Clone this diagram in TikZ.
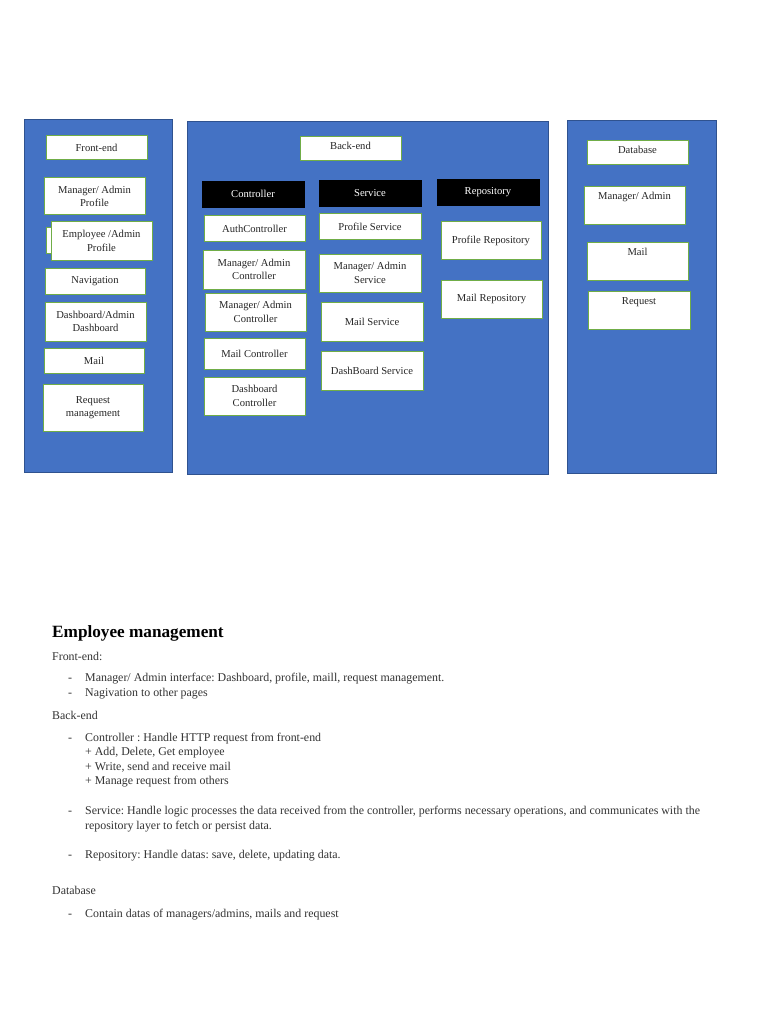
\documentclass[tikz,border=0pt]{standalone}
\usepackage{fontspec}
\setmainfont{Liberation Serif}
\frenchspacing
\begin{document}
\begin{tikzpicture}[x=1pt,y=-1pt,
  panel/.style={draw=panelborder,fill=panelblue,line width=0.8pt,inner sep=0pt},
  wbox/.style={draw=boxgreen,fill=white,line width=1pt,inner sep=0pt,align=center,
    text=boxtext,font=\fontsize{10.6}{13.5}\selectfont},
  topbox/.style={wbox,text height=13pt},
  hbox/.style={draw=black,fill=black,inner sep=0pt,align=center,text=white,
    font=\fontsize{10.6}{13.5}\selectfont},
  body/.style={inner sep=0pt,anchor=base west,text=bodytext,font=\fontsize{11.9}{14.5}\selectfont},
  dashmark/.style={inner sep=0pt,anchor=base,text=bodytext,font=\fontsize{12}{14.5}\selectfont}
]
\definecolor{panelblue}{HTML}{4472C4}
\definecolor{panelborder}{HTML}{2F528F}
\definecolor{boxgreen}{HTML}{70AD47}
\definecolor{boxtext}{HTML}{262626}
\definecolor{bodytext}{HTML}{333333}
\useasboundingbox[fill=white] (0,0) rectangle (768,1024);

% panels
\node[panel,minimum width=148pt,minimum height=353pt] (pf) at (98,295.5) {};
\node[panel,minimum width=361pt,minimum height=353pt] (pb) at (367.5,297.5) {};
\node[panel,minimum width=149pt,minimum height=353pt] (pd) at (641.5,296.5) {};

% front-end
\node[wbox,minimum width=101pt,minimum height=24pt] (fe) at (96.5,148) {Front-end};
\node[wbox,minimum width=101pt,minimum height=37pt] (mp) at (94.5,196.5) {Manager/ Admin\\Profile};
\node[wbox,minimum width=101pt,minimum height=25pt] (epb) at (96.5,240.5) {};
\node[wbox,minimum width=101pt,minimum height=38pt] (ep) at (101.5,241) {Employee /Admin\\Profile};
\node[wbox,minimum width=100pt,minimum height=26pt] (nav) at (95,281) {Navigation};
\node[wbox,minimum width=101pt,minimum height=39pt] (dash) at (95.5,321.5) {Dashboard/Admin\\Dashboard};
\node[wbox,minimum width=100pt,minimum height=25pt] (mail) at (94,360.5) {Mail};
\node[wbox,minimum width=100pt,minimum height=47pt] (req) at (93,407.5) {Request\\management};

% back-end
\node[topbox,minimum width=101pt,text depth=11pt] (be) at (350.5,148.5) {Back-end};
\node[hbox,minimum width=102pt,minimum height=26pt] (ctl) at (253,194) {Controller};
\node[hbox,minimum width=102pt,minimum height=26pt] (svc) at (370,193) {Service};
\node[hbox,minimum width=102pt,minimum height=26pt] (rep) at (488,192) {Repository};

\node[wbox,minimum width=101pt,minimum height=25pt] (auth) at (254.5,228.5) {AuthController};
\node[wbox,minimum width=102pt,minimum height=39pt] (mac) at (254,269.5) {Manager/ Admin\\Controller};
\node[wbox,minimum width=101pt,minimum height=38pt] (mac2) at (255.5,312) {Manager/ Admin\\Controller};
\node[wbox,minimum width=101pt,minimum height=31pt] (mailc) at (254.5,353.5) {Mail Controller};
\node[wbox,minimum width=101pt,minimum height=38pt] (dashc) at (254.5,396) {Dashboard\\Controller};

\node[wbox,minimum width=102pt,minimum height=25pt] (ps) at (370,226.5) {Profile Service};
\node[wbox,minimum width=102pt,minimum height=38pt] (mas) at (370,273) {Manager/ Admin\\Service};
\node[wbox,minimum width=102pt,minimum height=39pt] (ms) at (372,321.5) {Mail Service};
\node[wbox,minimum width=102pt,minimum height=39pt] (ds) at (372,370.5) {DashBoard Service};

\node[wbox,minimum width=100pt,minimum height=37pt] (pr) at (491,240.5) {Profile Repository};
\node[wbox,minimum width=101pt,minimum height=38pt] (mr) at (491.5,299) {Mail Repository};

% database
\node[topbox,minimum width=101pt,text depth=11pt] (db) at (637.5,153) {Database};
\node[topbox,minimum width=101pt,text depth=25pt] (dbm) at (634.5,206) {Manager/ Admin};
\node[topbox,minimum width=101pt,text depth=25pt] (dbmail) at (637.5,261) {Mail};
\node[topbox,minimum width=102pt,text depth=25pt] (dbreq) at (639,310) {Request};

% text section
\node[inner sep=0pt,anchor=base west,font=\fontsize{17.2}{20}\selectfont\bfseries] (title) at (52,637) {Employee management};
\node[body] (t1) at (52,660) {Front-end:};
\node[dashmark] (d1) at (70,681) {-};
\node[body] (t2) at (85,681) {Manager/ Admin interface: Dashboard, profile, maill, request management.};
\node[dashmark] (d2) at (70,696) {-};
\node[body] (t3) at (85,696) {Nagivation to other pages};
\node[body] (t4) at (52,719) {Back-end};
\node[dashmark] (d3) at (70,741) {-};
\node[body] (t5) at (85,741) {Controller : Handle HTTP request from front-end};
\node[body] (t6) at (85,755) {+ Add, Delete, Get employee};
\node[body] (t7) at (85,770) {+ Write, send and receive mail};
\node[body] (t8) at (85,784) {+ Manage request from others};
\node[dashmark] (d4) at (70,814) {-};
\node[body] (t9) at (85,814) {Service: Handle logic processes the data received from the controller, performs necessary operations, and communicates with the};
\node[body] (t10) at (85,829) {repository layer to fetch or persist data.};
\node[dashmark] (d5) at (70,858) {-};
\node[body] (t11) at (85,858) {Repository: Handle datas: save, delete, updating data.};
\node[body] (t12) at (52,894) {Database};
\node[dashmark] (d6) at (70,917) {-};
\node[body] (t13) at (85,917) {Contain datas of managers/admins, mails and request};
\end{tikzpicture}
\end{document}
